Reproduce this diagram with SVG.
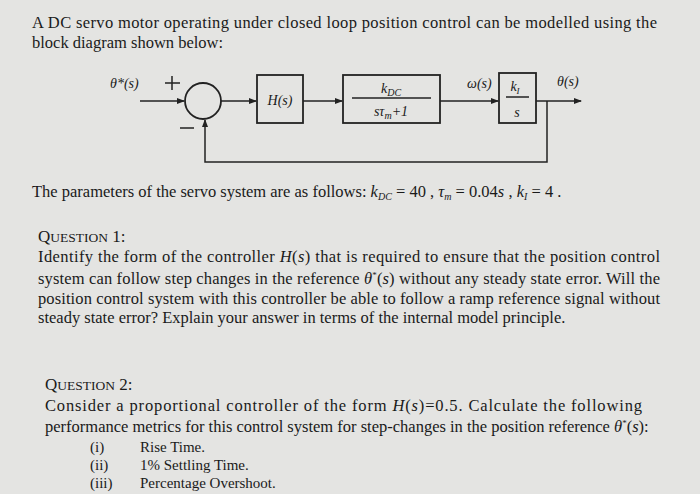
<svg xmlns="http://www.w3.org/2000/svg" width="700" height="494" viewBox="0 0 700 494">
<style>
text{font-family:"Liberation Serif","Times New Roman",serif;fill:#1a1a1a;font-size:16.5px}
.d{font-style:italic;font-size:14px}
.sc{font-size:17px}
.it{font-size:15px}
.bx{fill:none;stroke:#222;stroke-width:1.8}
.ln{fill:none;stroke:#222;stroke-width:1.5}
</style>
<defs><marker id="a" markerWidth="8" markerHeight="8" refX="7" refY="4" orient="auto" markerUnits="userSpaceOnUse"><path d="M0,1 L8,4 L0,7 Z" fill="#222"/></marker></defs>
<rect width="700" height="494" fill="#e4e4e2"/>
<text x="32" y="28" textLength="625" lengthAdjust="spacing">A DC servo motor operating under closed loop position control can be modelled using the</text>
<text x="32" y="48">block diagram shown below:</text>
<g id="conn">
<path class="ln" d="M140,101 H184" marker-end="url(#a)"/>
<path class="ln" d="M221,101 H256" marker-end="url(#a)"/>
<path class="ln" d="M303,101 H342" marker-end="url(#a)"/>
<path class="ln" d="M440,101 H498" marker-end="url(#a)"/>
<path class="ln" d="M536,101 H581" marker-end="url(#a)"/>
<path class="ln" d="M547,101 V162 H205 V120" marker-end="url(#a)"/>
</g>
<g id="sum"><circle cx="203" cy="101" r="18" class="bx"/>
<path class="ln" d="M165,83 H180 M172,76 V90 M180,128 H194"/></g>
<text class="d" x="110" y="88">θ*(s)</text>
<g id="H"><rect class="bx" x="257" y="75" width="46" height="48"/><text class="d" x="280" y="105" text-anchor="middle">H(s)</text></g>
<g id="G"><rect class="bx" x="343" y="75" width="97" height="48"/><path class="ln" d="M352,98 H431"/>
<text class="d" x="391" y="93" text-anchor="middle">k<tspan font-size="10" dy="3">DC</tspan></text>
<text class="d" x="391" y="116" text-anchor="middle">sτ<tspan font-size="10" dy="3">m</tspan><tspan dy="-3">+1</tspan></text></g>
<text class="d" x="467" y="88">ω(s)</text>
<g id="I"><rect class="bx" x="499" y="73" width="37" height="50"/><path class="ln" d="M506,97 H529"/>
<text class="d" x="515" y="91" text-anchor="middle">k<tspan font-size="9" dy="3">I</tspan></text>
<text class="d" x="517" y="117" text-anchor="middle">s</text></g>
<text class="d" x="557" y="86">θ(s)</text>
<text x="32" y="197">The parameters of the servo system are as follows: <tspan font-style="italic">k</tspan><tspan font-style="italic" font-size="10" dy="3">DC</tspan><tspan dy="-3"> = 40 , </tspan><tspan font-style="italic">τ</tspan><tspan font-style="italic" font-size="10" dy="3">m</tspan><tspan dy="-3"> = 0.04</tspan><tspan font-style="italic">s</tspan> , <tspan font-style="italic">k</tspan><tspan font-style="italic" font-size="10" dy="3">I</tspan><tspan dy="-3"> = 4 .</tspan></text>
<text x="38" y="242" class="sc">Q<tspan font-size="13.5">UESTION</tspan> 1:</text>
<text x="38" y="262" textLength="622" lengthAdjust="spacing">Identify the form of the controller <tspan font-style="italic">H</tspan>(<tspan font-style="italic">s</tspan>) that is required to ensure that the position control</text>
<text x="38" y="284" textLength="622" lengthAdjust="spacing">system can follow step changes in the reference <tspan font-style="italic">θ</tspan><tspan font-size="9" dy="-6">*</tspan><tspan dy="6">(</tspan><tspan font-style="italic">s</tspan>) without any steady state error. Will the</text>
<text x="38" y="304" textLength="622" lengthAdjust="spacing">position control system with this controller be able to follow a ramp reference signal without</text>
<text x="38" y="323">steady state error? Explain your answer in terms of the internal model principle.</text>
<text x="45" y="390" class="sc">Q<tspan font-size="13.5">UESTION</tspan> 2:</text>
<text x="45" y="411" textLength="597" lengthAdjust="spacing">Consider a proportional controller of the form <tspan font-style="italic">H</tspan>(<tspan font-style="italic">s</tspan>)=0.5. Calculate the following</text>
<text x="45" y="432">performance metrics for this control system for step-changes in the position reference <tspan font-style="italic">θ</tspan><tspan font-size="9" dy="-6">*</tspan><tspan dy="6">(</tspan><tspan font-style="italic">s</tspan>):</text>
<text class="it" x="90" y="452">(i)</text><text class="it" x="140" y="452">Rise Time.</text>
<text class="it" x="90" y="470">(ii)</text><text class="it" x="140" y="470">1% Settling Time.</text>
<text class="it" x="90" y="488">(iii)</text><text class="it" x="140" y="488">Percentage Overshoot.</text>
</svg>
